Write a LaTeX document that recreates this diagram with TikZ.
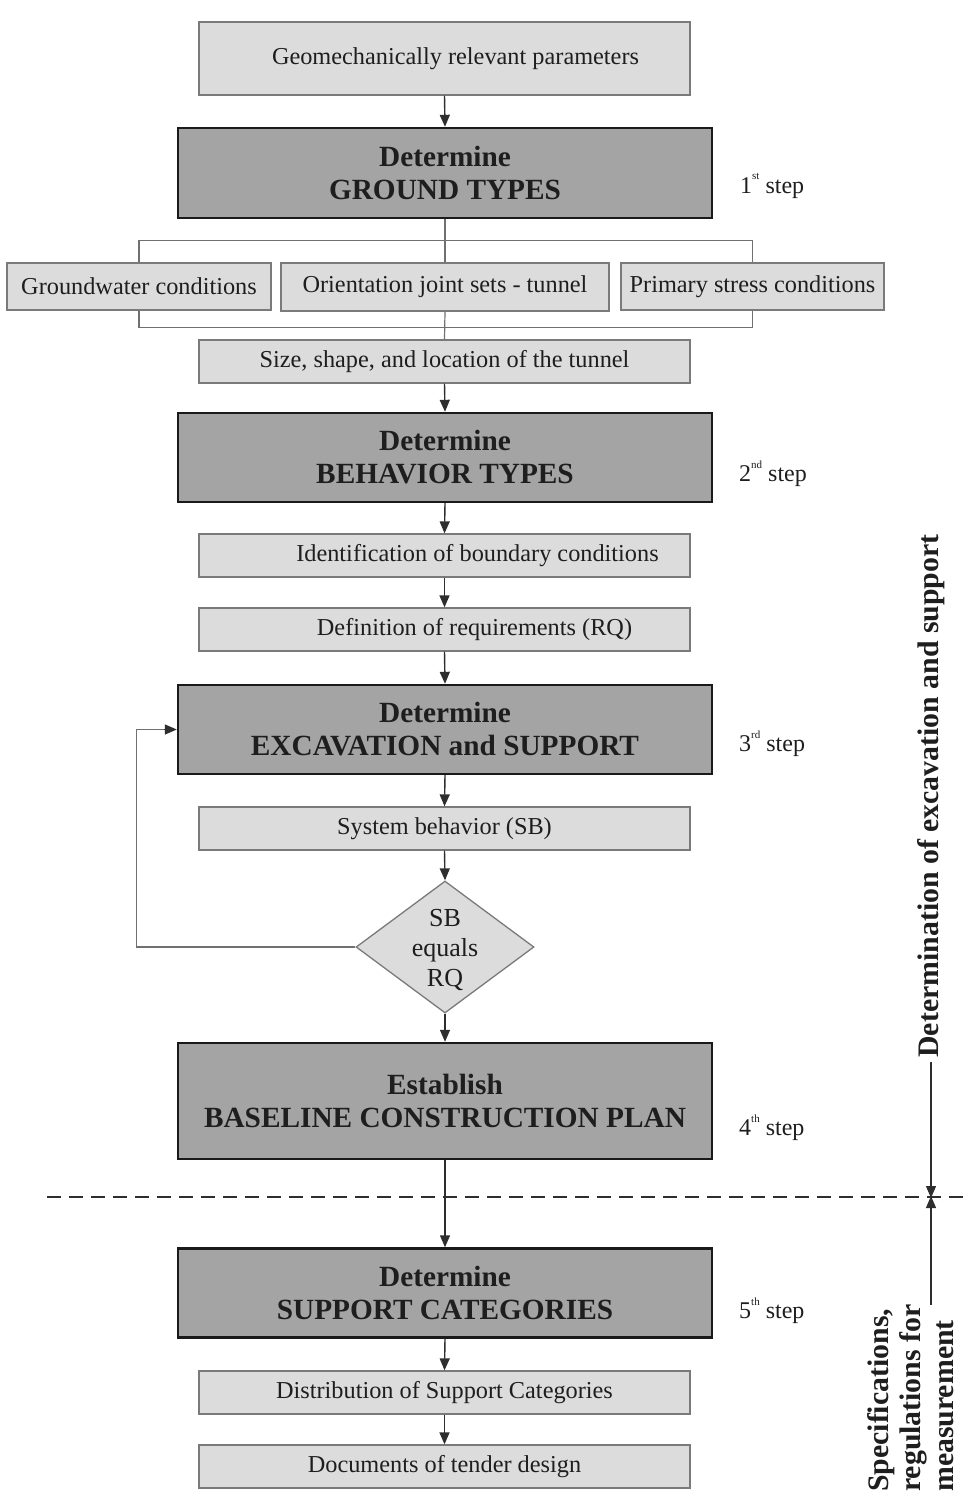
\documentclass[tikz,border=0pt]{standalone}
\usepackage{fontspec}
\setmainfont{Liberation Serif}
\usetikzlibrary{arrows.meta,shapes.geometric}
\definecolor{lfill}{HTML}{DCDCDC}
\definecolor{lline}{HTML}{7A7A7A}
\definecolor{dfill}{HTML}{A4A4A4}
\definecolor{dline}{HTML}{1A1A1A}
\definecolor{txt}{HTML}{1E1E1E}
\definecolor{cline}{HTML}{2E2E2E}
\definecolor{bline}{HTML}{707070}
\newcommand\mysup[1]{\raisebox{0.55em}{\fontsize{11}{11}\selectfont #1}}
\begin{document}
\begin{tikzpicture}[x=1pt,y=-1pt,
 lbox/.style={draw=lline, line width=1.3pt, fill=lfill, minimum width=491pt, minimum height=43pt, inner sep=0pt, text=txt, font=\fontsize{24.3}{28}\selectfont},
 dbox/.style={draw=dline, line width=2.4pt, fill=dfill, minimum width=534pt, minimum height=89pt, inner sep=0pt, text=txt, align=center, font=\fontsize{29.3}{33}\selectfont\bfseries},
 conn/.style={draw=cline, line width=1.4pt, -{Triangle[length=12pt,width=10pt]}},
 brk/.style={draw=bline, line width=1.2pt},
 steplab/.style={anchor=west, text=txt, font=\fontsize{24}{28}\selectfont, inner sep=0pt},
 side/.style={text=txt, font=\fontsize{29.8}{32.5}\selectfont\bfseries, rotate=90}
]
\useasboundingbox (0,0) rectangle (969,1496);

% main column
\node[lbox, minimum height=73pt] (geo) at (444.5,58.5) {\hspace*{22pt}Geomechanically relevant parameters};
\node[dbox, minimum height=90pt] (gt) at (445,173) {Determine\\GROUND TYPES};

\node[lbox, minimum width=264pt, minimum height=47pt] (gw) at (139,286.5) {Groundwater conditions};
\node[lbox, minimum width=328pt, minimum height=48pt] (oj) at (445,287) {Orientation joint sets - tunnel};
\node[lbox, minimum width=263pt, minimum height=47pt] (ps) at (752.5,286.5) {Primary stress conditions};

\node[lbox] (sz) at (444.5,361.5) {Size, shape, and location of the tunnel};
\node[dbox] (bt) at (445,457.5) {Determine\\BEHAVIOR TYPES};
\node[lbox] (ib) at (444.5,555.5) {\hspace*{66pt}Identification of boundary conditions};
\node[lbox] (rq) at (444.5,629.5) {\hspace*{60pt}Definition of requirements (RQ)};
\node[dbox] (ex) at (445,729.5) {Determine\\EXCAVATION and SUPPORT};
\node[lbox] (sb) at (444.5,828.5) {System behavior (SB)};
\node[diamond, draw=lline, line width=1.3pt, fill=lfill, minimum width=178pt, minimum height=132pt, inner sep=0pt] (dia) at (445,947) {};
\node[text=txt, align=center, font=\fontsize{26}{30}\selectfont] (diatxt) at (445,950) {SB\\equals\\RQ};
\node[dbox, minimum height=116pt] (bl) at (445,1101) {Establish\\BASELINE CONSTRUCTION PLAN};
\node[dbox] (sc) at (445,1293) {Determine\\SUPPORT CATEGORIES};
\node[lbox] (dc) at (444.5,1392.5) {Distribution of Support Categories};
\node[lbox] (td) at (444.5,1466.5) {Documents of tender design};

% step labels
\node[steplab] (s1) at (740,186) {1\mysup{st} step};
\node[steplab] (s2) at (739,474) {2\mysup{nd} step};
\node[steplab] (s3) at (739,744) {3\mysup{rd} step};
\node[steplab] (s4) at (739,1128) {4\mysup{th} step};
\node[steplab] (s5) at (739,1311) {5\mysup{th} step};

% connectors
\draw[conn] (geo.south) -- (gt.north);
\draw[brk] (gt.south) -- (oj.north);
\draw[brk] (oj.south) -- (sz.north);
\draw[brk] (gw.north) -- ++(0,-22) -| (ps.north);
\draw[brk] (gw.south) -- ++(0,17) -| (ps.south);
\draw[conn] (sz.south) -- (bt.north);
\draw[conn] (bt.south) -- (ib.north);
\draw[conn] (ib.south) -- (rq.north);
\draw[conn] (rq.south) -- (ex.north);
\draw[conn] (ex.south) -- (sb.north);
\draw[conn] (sb.south) -- (dia.north);
\draw[brk] (dia.west) -- ++(-219,0) |- ([xshift=-12pt]ex.west);
\draw[conn] ([xshift=-12.5pt]ex.west) -- (ex.west);
\draw[conn] (dia.south) -- (bl.north);
\draw[conn] (bl.south) -- (sc.north);
\draw[conn] (sc.south) -- (dc.north);
\draw[conn] (dc.south) -- (td.north);

% dashed separator
\coordinate (dl) at (47,1197);
\coordinate (dr) at (969,1197);
\draw[draw=cline, line width=2.8pt, dash pattern=on 14pt off 8pt] (dl) -- (dr);

% side labels
\node[side] (lab1) at (931,796) {Determination of excavation and support};
\coordinate (mid) at (931,1197);
\coordinate (lt) at (931,1062);
\draw[conn, line width=1.2pt] (lt) -- ([yshift=-1pt]mid);
\node[side, anchor=north west, align=left, inner sep=0pt] (lab2) at (867,1492) {Specifications,\\regulations for\\measurement};
\coordinate (lb) at (931,1305);
\draw[conn, line width=1.2pt] (lb) -- ([yshift=1pt]mid);
\end{tikzpicture}
\end{document}
